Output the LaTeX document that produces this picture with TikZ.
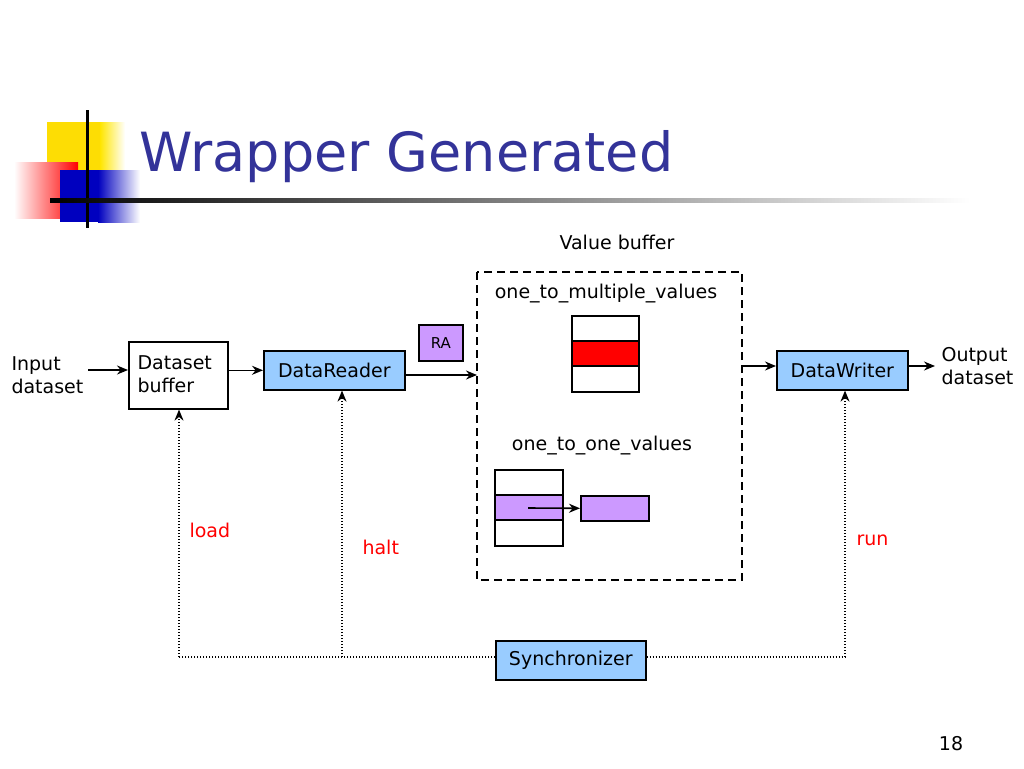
\documentclass[tikz,border=0pt]{standalone}
\usepackage{fontspec}
\setmainfont{DejaVu Sans}
\usetikzlibrary{arrows.meta}
\definecolor{tblue}{RGB}{51,51,153}
\definecolor{lblue}{RGB}{153,204,255}
\definecolor{lpurp}{RGB}{204,153,255}
\begin{document}
\begin{tikzpicture}[x=1pt,y=-1pt,
 box/.style={draw,line width=1.6pt,inner sep=0pt,anchor=north west},
 txt/.style={font=\fontsize{19}{23}\selectfont},
 arr/.style={-{Stealth[length=11pt,width=9pt]},line width=1.6pt},
 dot/.style={dash pattern=on 1.5pt off 1.5pt,line width=1.6pt}]
\useasboundingbox (0,0) rectangle (1024,768);
% logo
\fill[yellow!80!orange] (47,122) rectangle (110,182);
\shade[left color=yellow!80!orange,right color=white] (100,122) rectangle (125,182);
\shade[left color=white,right color=red] (14,162) rectangle (78,218);
\fill[blue!75!black] (60,170) rectangle (100,222);
\shade[left color=blue!75!black,right color=white] (98,170) rectangle (140,222);
\draw[line width=3pt] (87,110) -- (87,228);
\shade[left color=black,right color=white] (50,198) rectangle (970,202);
\node[anchor=west,text=tblue,font=\fontsize{54}{64}\selectfont] (title) at (136,157) {Wrapper Generated};
% boxes
\node[box,minimum width=99pt,minimum height=67pt] (db) at (128,341) {};
\node[txt,align=left,anchor=west] (dbt) at (134,374) {Dataset\\buffer};
\node[box,fill=lblue,minimum width=141pt,minimum height=39pt] (dr) at (263,350) {};
\node[txt] at (dr.center) {DataReader};
\node[box,fill=lpurp,minimum width=44pt,minimum height=36pt] (ra) at (418,324) {};
\node[font=\fontsize{15}{17}\selectfont] at (ra.center) {RA};
\draw[dash pattern=on 8pt off 5pt,line width=1.8pt] (477,272) rectangle (742,580);
\coordinate (vl) at (477,375);
\coordinate (vr) at (742,366);
\node[box,fill=lblue,minimum width=131pt,minimum height=39pt] (dw) at (776,350) {};
\node[txt] at (dw.center) {DataWriter};
\node[box,fill=lblue,minimum width=150pt,minimum height=39pt] (sy) at (495,640) {};
\node[txt] at (sy.center) {Synchronizer};
% stacks
\draw[line width=1.6pt] (572,316) rectangle (639,341);
\draw[line width=1.6pt,fill=red] (572,341) rectangle (639,366);
\draw[line width=1.6pt] (572,366) rectangle (639,392);
\draw[line width=1.6pt] (495,470) rectangle (563,495);
\draw[line width=1.6pt,fill=lpurp] (495,495) rectangle (563,520);
\draw[line width=1.6pt] (495,520) rectangle (563,546);
\node[box,fill=lpurp,minimum width=68pt,minimum height=25pt] (ov) at (580,495) {};
\coordinate (os) at (528,508);
\draw[arr] (os) -- (ov.west);
% texts
\node[txt,align=left,anchor=west] (in) at (8,375) {Input\\dataset};
\node[txt,align=left,anchor=west] (out) at (938,366) {Output\\dataset};
\node[txt] at (617,242) {Value buffer};
\node[txt] at (606,294) {one\_to\_multiple\_values};
\node[txt] at (602,446) {one\_to\_one\_values};
\node[txt,text=red,anchor=west] at (186,530) {load};
\node[txt,text=red,anchor=west] at (359,547) {halt};
\node[txt,text=red,anchor=west] at (853,540) {run};
\node[txt] at (951,744) {18};
% arrows
\coordinate (ie) at (88,370);
\draw[arr] (ie) -- (db.west |- ie);
\draw[arr] (db.east |- dr.west) -- (dr.west);
\draw[arr] (dr.east |- vl) -- (vl);
\draw[arr] (vr) -- (dw.west |- vr);
\coordinate (oe) at (935,366);
\draw[arr] (dw.east |- oe) -- (oe);
\coordinate (l1) at (179,657);
\coordinate (l2) at (342,657);
\coordinate (l3) at (845,657);
\draw[dot] (sy.west |- l1) -- (l1);
\draw[arr,dot] (l1) -- (l1 |- db.south);
\draw[arr,dot] (l2) -- (l2 |- dr.south);
\draw[dot] (sy.east |- l3) -- (l3);
\draw[arr,dot] (l3) -- (l3 |- dw.south);
\end{tikzpicture}
\end{document}
